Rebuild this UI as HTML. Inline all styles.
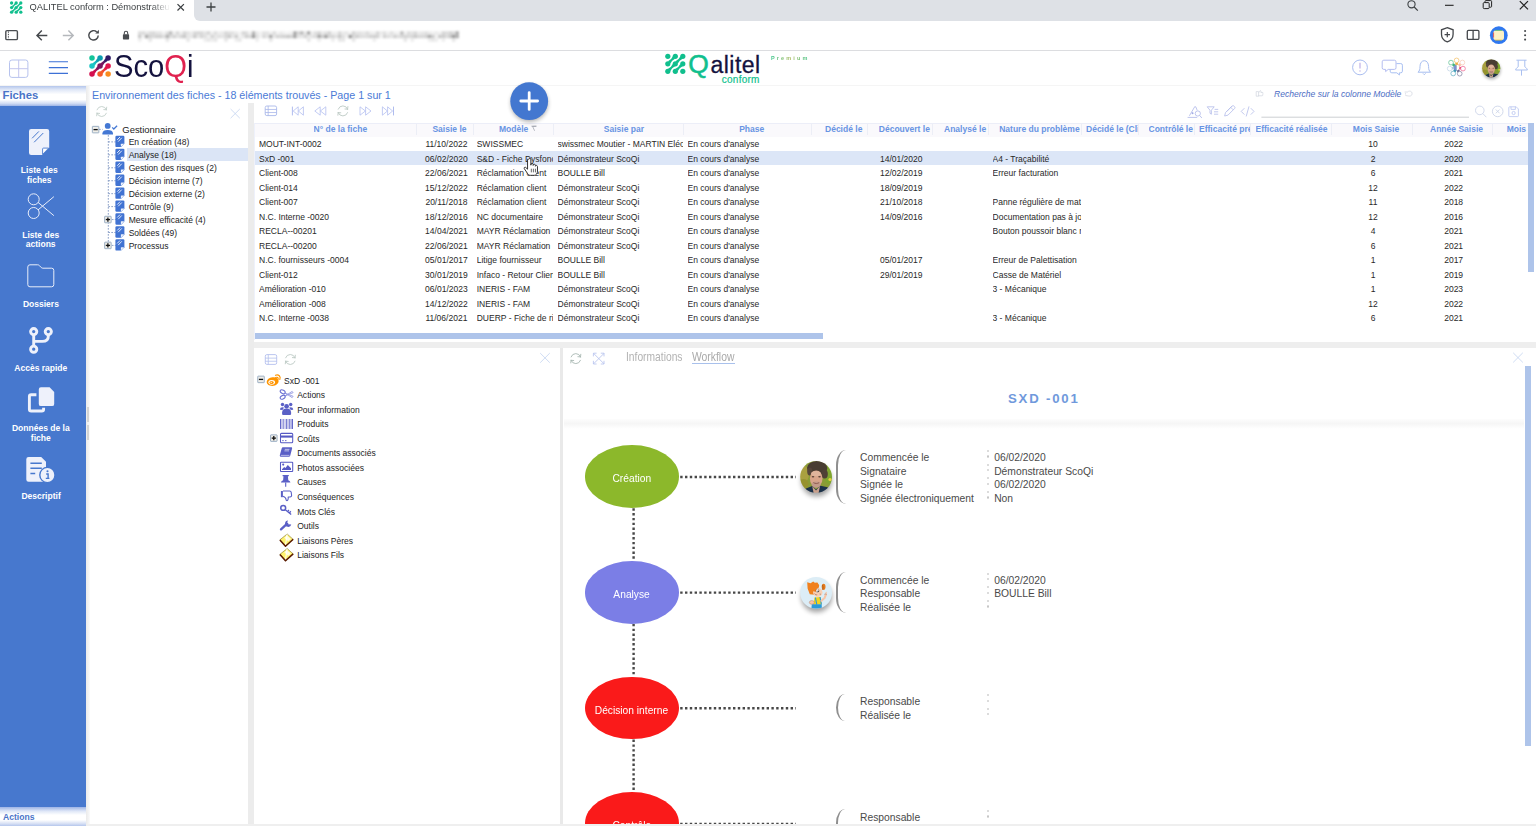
<!DOCTYPE html>
<html lang="fr"><head><meta charset="utf-8"><title>QALITEL conform : Démonstrateur</title>
<style>
*{box-sizing:border-box;margin:0;padding:0}
html,body{width:1536px;height:826px;overflow:hidden;background:#fff}
body{position:relative;font-family:"Liberation Sans",sans-serif;font-size:8.53px;color:#1f1f1f;line-height:1}
.a{position:absolute}
.t{position:absolute;white-space:nowrap;line-height:12px;height:12px}
svg{position:absolute;overflow:visible}
#tabstrip{left:0;top:0;width:1536px;height:21px;background:#dee1e6}
#tab{left:0;top:0;width:193.500px;height:21px;background:#fff}
#tabcurve{left:193.500px;top:15px;width:6px;height:6px;background:#fff}
#tabcurve2{left:193.500px;top:9px;width:12px;height:12px;background:#dee1e6;border-radius:0 0 0 6px}
#toolbar{left:0;top:21px;width:1536px;height:30px;background:#fff;border-bottom:1px solid #dcdde0}
#apphead{left:0;top:51px;width:1536px;height:34.500px;background:#fff;border-bottom:1px solid #f5f5f5}
#side{left:0;top:86px;width:86px;height:740px;background:#4778ce}
.shead{position:absolute;left:0;width:86px;color:#4a72c6;font-weight:bold}
.sl{position:absolute;left:0;width:80px;text-align:center;color:#fff;font-weight:bold;font-size:8.53px;line-height:9.6px}
.hd{position:absolute;top:123px;height:13px;line-height:13px;color:#6894e3;font-weight:bold;white-space:nowrap;overflow:hidden;font-size:8.53px}
.sep{position:absolute;top:124px;width:1px;height:11px;background:#eceef6}
.c{position:absolute;white-space:nowrap;overflow:hidden;height:14px;line-height:14px;font-size:8.53px;color:#282828}
.tr{position:absolute;white-space:nowrap;font-size:8.53px;line-height:13px;height:13px;color:#1c1c1c}
.wl{position:absolute;white-space:nowrap;font-size:10.3px;line-height:13.7px;color:#4a4a4a}
.el{position:absolute;border-radius:50%;color:#fff;text-align:center;font-size:11px}
.hdot{position:absolute;height:0;border-top:2px dotted #4a4a4a}
.vdot{position:absolute;width:0;border-left:2px dotted #4a4a4a}
.br{position:absolute;width:12px;border-left:2.700px solid #8f8f8f;border-radius:10px 0 0 10px / 15px 0 0 15px}
.dt{position:absolute;left:986.500px;width:2.300px;height:2.300px;border-radius:50%;border:.6px solid #c6c6c6}
</style></head><body>
<div class="a" id="tabstrip"></div><div class="a" id="tab"></div><div class="a" id="tabcurve"></div><div class="a" id="tabcurve2"></div><div class="a" id="toolbar"></div>
<svg class="a" style="left:0;top:0" width="1536" height="51"><defs><linearGradient id="g11_0" gradientUnits="userSpaceOnUse" x1="16.20" y1="3.00" x2="11.60" y2="7.60"><stop offset="0.3" stop-color="#10bf8d"/><stop offset="0.7" stop-color="#10bf8d"/></linearGradient></defs><path d="M14.60 3.15Q13.65 5.05 11.75 6.00L13.20 7.45Q14.15 5.55 16.05 4.60Z" fill="url(#g11_0)"/><defs><linearGradient id="g11_1" gradientUnits="userSpaceOnUse" x1="20.80" y1="3.00" x2="16.20" y2="7.60"><stop offset="0.3" stop-color="#10bf8d"/><stop offset="0.7" stop-color="#10bf8d"/></linearGradient></defs><path d="M19.20 3.15Q18.25 5.05 16.35 6.00L17.80 7.45Q18.75 5.55 20.65 4.60Z" fill="url(#g11_1)"/><defs><linearGradient id="g11_2" gradientUnits="userSpaceOnUse" x1="16.20" y1="7.60" x2="11.60" y2="12.20"><stop offset="0.3" stop-color="#10bf8d"/><stop offset="0.7" stop-color="#10bf8d"/></linearGradient></defs><path d="M14.60 7.75Q13.65 9.65 11.75 10.60L13.20 12.05Q14.15 10.15 16.05 9.20Z" fill="url(#g11_2)"/><defs><linearGradient id="g11_3" gradientUnits="userSpaceOnUse" x1="20.80" y1="7.60" x2="16.20" y2="12.20"><stop offset="0.3" stop-color="#10bf8d"/><stop offset="0.7" stop-color="#10bf8d"/></linearGradient></defs><path d="M19.20 7.75Q18.25 9.65 16.35 10.60L17.80 12.05Q18.75 10.15 20.65 9.20Z" fill="url(#g11_3)"/><circle cx="11.60" cy="3.00" r="1.65" fill="#10bf8d"/><circle cx="16.20" cy="3.00" r="1.65" fill="#10bf8d"/><circle cx="20.80" cy="3.00" r="1.65" fill="#10bf8d"/><circle cx="11.60" cy="7.60" r="1.65" fill="#10bf8d"/><circle cx="16.20" cy="7.60" r="1.65" fill="#10bf8d"/><circle cx="20.80" cy="7.60" r="1.65" fill="#10bf8d"/><circle cx="11.60" cy="12.20" r="1.65" fill="#10bf8d"/><circle cx="16.20" cy="12.20" r="1.65" fill="#10bf8d"/><circle cx="20.80" cy="12.20" r="1.65" fill="#10bf8d"/><path d="M177.5 4.1l6.4 6.4M183.9 4.1l-6.4 6.4" stroke="#3c4043" stroke-width="1.25" fill="none"/><path d="M206.5 7h9M211 2.5v9" stroke="#3c4043" stroke-width="1.3" fill="none"/><circle cx="1411.5" cy="4.3" r="3.6" fill="none" stroke="#3c4043" stroke-width="1.1"/><path d="M1414.2 7l3.6 3.6" stroke="#3c4043" stroke-width="1.2"/><path d="M1445 5.3h8.6" stroke="#222" stroke-width="1.1"/><rect x="1483.2" y="2.6" width="6" height="6" rx="1" fill="none" stroke="#222" stroke-width="1"/><path d="M1485 2.6v-1.2a.8.8 0 0 1 .8-.8h5a.8.8 0 0 1 .8.8v5a.8.8 0 0 1-.8.8h-1.3" fill="none" stroke="#222" stroke-width="1"/><path d="M1519.8 1.2l8.2 8.2M1528 1.2l-8.2 8.2" stroke="#222" stroke-width="1.2"/><g transform="translate(0 .4)"><rect x="5.8" y="30.2" width="11.6" height="9" rx="1.2" fill="none" stroke="#4a4d51" stroke-width="1.4"/><path d="M8.400 31v7.400" stroke="#4a4d51" stroke-width="1" stroke-dasharray="1.400 1"/><path d="M47.3 35H37.2M41.8 30.2l-4.8 4.8 4.8 4.8" fill="none" stroke="#45484c" stroke-width="1.450"/><path d="M62.8 35h10.1M68.4 30.2l4.8 4.8-4.8 4.8" fill="none" stroke="#b5b8bc" stroke-width="1.450"/><path d="M98.2 35a4.7 4.7 0 1 1-1.5-3.5" fill="none" stroke="#45484c" stroke-width="1.450"/><path d="M98.9 29.4v3.6h-3.6z" fill="#45484c"/><rect x="122.9" y="33.8" width="6.2" height="5.2" rx=".7" fill="#4a4d51"/><path d="M124.3 34v-1.5a1.7 1.7 0 0 1 3.4 0V34" fill="none" stroke="#4a4d51" stroke-width="1.1"/></g><defs><filter id="bl" x="-5%" y="-50%" width="110%" height="200%"><feGaussianBlur stdDeviation=".85"/></filter></defs><g filter="url(#bl)"><rect x="138.00" y="31.30" width="3.50" height="3.500" fill="rgb(220,220,220)"/><rect x="138.00" y="34.75" width="3.50" height="3.500" fill="rgb(198,198,198)"/><rect x="138.00" y="38.20" width="3.50" height="3.500" fill="rgb(237,237,237)"/><rect x="141.45" y="31.30" width="3.50" height="3.500" fill="rgb(216,216,216)"/><rect x="141.45" y="34.75" width="3.50" height="3.500" fill="rgb(242,242,242)"/><rect x="144.90" y="31.30" width="3.50" height="3.500" fill="rgb(231,231,231)"/><rect x="144.90" y="34.75" width="3.50" height="3.500" fill="rgb(166,166,166)"/><rect x="148.35" y="31.30" width="3.50" height="3.500" fill="rgb(219,219,219)"/><rect x="148.35" y="34.75" width="3.50" height="3.500" fill="rgb(207,207,207)"/><rect x="148.35" y="38.20" width="3.50" height="3.500" fill="rgb(229,229,229)"/><rect x="151.80" y="31.30" width="3.50" height="3.500" fill="rgb(215,215,215)"/><rect x="151.80" y="34.75" width="3.50" height="3.500" fill="rgb(216,216,216)"/><rect x="155.25" y="31.30" width="3.50" height="3.500" fill="rgb(225,225,225)"/><rect x="155.25" y="34.75" width="3.50" height="3.500" fill="rgb(205,205,205)"/><rect x="158.70" y="31.30" width="3.50" height="3.500" fill="rgb(227,227,227)"/><rect x="158.70" y="34.75" width="3.50" height="3.500" fill="rgb(206,206,206)"/><rect x="162.15" y="31.30" width="3.50" height="3.500" fill="rgb(242,242,242)"/><rect x="162.15" y="34.75" width="3.50" height="3.500" fill="rgb(220,220,220)"/><rect x="165.60" y="31.30" width="3.50" height="3.500" fill="rgb(221,221,221)"/><rect x="165.60" y="34.75" width="3.50" height="3.500" fill="rgb(173,173,173)"/><rect x="165.60" y="38.20" width="3.50" height="3.500" fill="rgb(229,229,229)"/><rect x="169.05" y="31.30" width="3.50" height="3.500" fill="rgb(181,181,181)"/><rect x="169.05" y="34.75" width="3.50" height="3.500" fill="rgb(219,219,219)"/><rect x="172.50" y="31.30" width="3.50" height="3.500" fill="rgb(240,240,240)"/><rect x="172.50" y="34.75" width="3.50" height="3.500" fill="rgb(209,209,209)"/><rect x="175.95" y="31.30" width="3.50" height="3.500" fill="rgb(213,213,213)"/><rect x="175.95" y="34.75" width="3.50" height="3.500" fill="rgb(227,227,227)"/><rect x="179.40" y="31.30" width="3.50" height="3.500" fill="rgb(238,238,238)"/><rect x="179.40" y="34.75" width="3.50" height="3.500" fill="rgb(211,211,211)"/><rect x="182.85" y="31.30" width="3.50" height="3.500" fill="rgb(212,212,212)"/><rect x="182.85" y="34.75" width="3.50" height="3.500" fill="rgb(196,196,196)"/><rect x="186.30" y="31.30" width="3.50" height="3.500" fill="rgb(224,224,224)"/><rect x="186.30" y="34.75" width="3.50" height="3.500" fill="rgb(230,230,230)"/><rect x="186.30" y="38.20" width="3.50" height="3.500" fill="rgb(229,229,229)"/><rect x="189.75" y="31.30" width="3.50" height="3.500" fill="rgb(235,235,235)"/><rect x="189.75" y="34.75" width="3.50" height="3.500" fill="rgb(230,230,230)"/><rect x="193.20" y="31.30" width="3.50" height="3.500" fill="rgb(212,212,212)"/><rect x="193.20" y="34.75" width="3.50" height="3.500" fill="rgb(198,198,198)"/><rect x="196.65" y="31.30" width="3.50" height="3.500" fill="rgb(212,212,212)"/><rect x="196.65" y="34.75" width="3.50" height="3.500" fill="rgb(230,230,230)"/><rect x="200.10" y="31.30" width="3.50" height="3.500" fill="rgb(214,214,214)"/><rect x="200.10" y="34.75" width="3.50" height="3.500" fill="rgb(209,209,209)"/><rect x="203.55" y="31.30" width="3.50" height="3.500" fill="rgb(226,226,226)"/><rect x="203.55" y="34.75" width="3.50" height="3.500" fill="rgb(223,223,223)"/><rect x="203.55" y="38.20" width="3.50" height="3.500" fill="rgb(237,237,237)"/><rect x="207.00" y="31.30" width="3.50" height="3.500" fill="rgb(209,209,209)"/><rect x="207.00" y="34.75" width="3.50" height="3.500" fill="rgb(242,242,242)"/><rect x="207.00" y="38.20" width="3.50" height="3.500" fill="rgb(229,229,229)"/><rect x="210.45" y="31.30" width="3.50" height="3.500" fill="rgb(239,239,239)"/><rect x="210.45" y="34.75" width="3.50" height="3.500" fill="rgb(209,209,209)"/><rect x="210.45" y="38.20" width="3.50" height="3.500" fill="rgb(237,237,237)"/><rect x="213.90" y="31.30" width="3.50" height="3.500" fill="rgb(220,220,220)"/><rect x="213.90" y="34.75" width="3.50" height="3.500" fill="rgb(231,231,231)"/><rect x="213.90" y="38.20" width="3.50" height="3.500" fill="rgb(229,229,229)"/><rect x="217.35" y="31.30" width="3.50" height="3.500" fill="rgb(237,237,237)"/><rect x="217.35" y="34.75" width="3.50" height="3.500" fill="rgb(222,222,222)"/><rect x="220.80" y="31.30" width="3.50" height="3.500" fill="rgb(233,233,233)"/><rect x="220.80" y="34.75" width="3.50" height="3.500" fill="rgb(229,229,229)"/><rect x="224.25" y="31.30" width="3.50" height="3.500" fill="rgb(212,212,212)"/><rect x="224.25" y="34.75" width="3.50" height="3.500" fill="rgb(213,213,213)"/><rect x="224.25" y="38.20" width="3.50" height="3.500" fill="rgb(229,229,229)"/><rect x="227.70" y="31.30" width="3.50" height="3.500" fill="rgb(221,221,221)"/><rect x="227.70" y="34.75" width="3.50" height="3.500" fill="rgb(200,200,200)"/><rect x="231.15" y="31.30" width="3.50" height="3.500" fill="rgb(224,224,224)"/><rect x="231.15" y="34.75" width="3.50" height="3.500" fill="rgb(230,230,230)"/><rect x="234.60" y="31.30" width="3.50" height="3.500" fill="rgb(234,234,234)"/><rect x="234.60" y="34.75" width="3.50" height="3.500" fill="rgb(201,201,201)"/><rect x="234.60" y="38.20" width="3.50" height="3.500" fill="rgb(237,237,237)"/><rect x="238.05" y="31.30" width="3.50" height="3.500" fill="rgb(244,244,244)"/><rect x="238.05" y="34.75" width="3.50" height="3.500" fill="rgb(242,242,242)"/><rect x="238.05" y="38.20" width="3.50" height="3.500" fill="rgb(229,229,229)"/><rect x="241.50" y="31.30" width="3.50" height="3.500" fill="rgb(212,212,212)"/><rect x="241.50" y="34.75" width="3.50" height="3.500" fill="rgb(231,231,231)"/><rect x="244.95" y="31.30" width="3.50" height="3.500" fill="rgb(219,219,219)"/><rect x="244.95" y="34.75" width="3.50" height="3.500" fill="rgb(205,205,205)"/><rect x="248.40" y="31.30" width="3.50" height="3.500" fill="rgb(241,241,241)"/><rect x="248.40" y="34.75" width="3.50" height="3.500" fill="rgb(214,214,214)"/><rect x="251.85" y="31.30" width="3.50" height="3.500" fill="rgb(176,176,176)"/><rect x="251.85" y="34.75" width="3.50" height="3.500" fill="rgb(151,151,151)"/><rect x="255.30" y="31.30" width="3.50" height="3.500" fill="rgb(231,231,231)"/><rect x="255.30" y="34.75" width="3.50" height="3.500" fill="rgb(220,220,220)"/><rect x="255.30" y="38.20" width="3.50" height="3.500" fill="rgb(237,237,237)"/><rect x="258.75" y="31.30" width="3.50" height="3.500" fill="rgb(242,242,242)"/><rect x="258.75" y="34.75" width="3.50" height="3.500" fill="rgb(242,242,242)"/><rect x="262.20" y="31.30" width="3.50" height="3.500" fill="rgb(224,224,224)"/><rect x="262.20" y="34.75" width="3.50" height="3.500" fill="rgb(214,214,214)"/><rect x="265.65" y="31.30" width="3.50" height="3.500" fill="rgb(227,227,227)"/><rect x="265.65" y="34.75" width="3.50" height="3.500" fill="rgb(227,227,227)"/><rect x="269.10" y="31.30" width="3.50" height="3.500" fill="rgb(239,239,239)"/><rect x="269.10" y="34.75" width="3.50" height="3.500" fill="rgb(161,161,161)"/><rect x="269.10" y="38.20" width="3.50" height="3.500" fill="rgb(229,229,229)"/><rect x="272.55" y="31.30" width="3.50" height="3.500" fill="rgb(219,219,219)"/><rect x="272.55" y="34.75" width="3.50" height="3.500" fill="rgb(229,229,229)"/><rect x="276.00" y="31.30" width="3.50" height="3.500" fill="rgb(243,243,243)"/><rect x="276.00" y="34.75" width="3.50" height="3.500" fill="rgb(210,210,210)"/><rect x="279.45" y="31.30" width="3.50" height="3.500" fill="rgb(234,234,234)"/><rect x="279.45" y="34.75" width="3.50" height="3.500" fill="rgb(211,211,211)"/><rect x="282.90" y="31.30" width="3.50" height="3.500" fill="rgb(242,242,242)"/><rect x="282.90" y="34.75" width="3.50" height="3.500" fill="rgb(208,208,208)"/><rect x="286.35" y="31.30" width="3.50" height="3.500" fill="rgb(243,243,243)"/><rect x="286.35" y="34.75" width="3.50" height="3.500" fill="rgb(197,197,197)"/><rect x="289.80" y="31.30" width="3.50" height="3.500" fill="rgb(239,239,239)"/><rect x="289.80" y="34.75" width="3.50" height="3.500" fill="rgb(210,210,210)"/><rect x="293.25" y="31.30" width="3.50" height="3.500" fill="rgb(161,161,161)"/><rect x="293.25" y="34.75" width="3.50" height="3.500" fill="rgb(160,160,160)"/><rect x="296.70" y="31.30" width="3.50" height="3.500" fill="rgb(212,212,212)"/><rect x="296.70" y="34.75" width="3.50" height="3.500" fill="rgb(227,227,227)"/><rect x="300.15" y="31.30" width="3.50" height="3.500" fill="rgb(180,180,180)"/><rect x="300.15" y="34.75" width="3.50" height="3.500" fill="rgb(229,229,229)"/><rect x="303.60" y="31.30" width="3.50" height="3.500" fill="rgb(231,231,231)"/><rect x="303.60" y="34.75" width="3.50" height="3.500" fill="rgb(212,212,212)"/><rect x="307.05" y="31.30" width="3.50" height="3.500" fill="rgb(159,159,159)"/><rect x="307.05" y="34.75" width="3.50" height="3.500" fill="rgb(231,231,231)"/><rect x="307.05" y="38.20" width="3.50" height="3.500" fill="rgb(229,229,229)"/><rect x="310.50" y="31.30" width="3.50" height="3.500" fill="rgb(238,238,238)"/><rect x="310.50" y="34.75" width="3.50" height="3.500" fill="rgb(226,226,226)"/><rect x="313.95" y="31.30" width="3.50" height="3.500" fill="rgb(221,221,221)"/><rect x="313.95" y="34.75" width="3.50" height="3.500" fill="rgb(219,219,219)"/><rect x="317.40" y="31.30" width="3.50" height="3.500" fill="rgb(209,209,209)"/><rect x="317.40" y="34.75" width="3.50" height="3.500" fill="rgb(160,160,160)"/><rect x="317.40" y="38.20" width="3.50" height="3.500" fill="rgb(237,237,237)"/><rect x="320.85" y="31.30" width="3.50" height="3.500" fill="rgb(233,233,233)"/><rect x="320.85" y="34.75" width="3.50" height="3.500" fill="rgb(206,206,206)"/><rect x="324.30" y="31.30" width="3.50" height="3.500" fill="rgb(222,222,222)"/><rect x="324.30" y="34.75" width="3.50" height="3.500" fill="rgb(156,156,156)"/><rect x="327.75" y="31.30" width="3.50" height="3.500" fill="rgb(209,209,209)"/><rect x="327.75" y="34.75" width="3.50" height="3.500" fill="rgb(214,214,214)"/><rect x="331.20" y="31.30" width="3.50" height="3.500" fill="rgb(238,238,238)"/><rect x="331.20" y="34.75" width="3.50" height="3.500" fill="rgb(210,210,210)"/><rect x="331.20" y="38.20" width="3.50" height="3.500" fill="rgb(237,237,237)"/><rect x="334.65" y="31.30" width="3.50" height="3.500" fill="rgb(239,239,239)"/><rect x="334.65" y="34.75" width="3.50" height="3.500" fill="rgb(224,224,224)"/><rect x="338.10" y="31.30" width="3.50" height="3.500" fill="rgb(214,214,214)"/><rect x="338.10" y="34.75" width="3.50" height="3.500" fill="rgb(197,197,197)"/><rect x="338.10" y="38.20" width="3.50" height="3.500" fill="rgb(229,229,229)"/><rect x="341.55" y="31.30" width="3.50" height="3.500" fill="rgb(234,234,234)"/><rect x="341.55" y="34.75" width="3.50" height="3.500" fill="rgb(223,223,223)"/><rect x="341.55" y="38.20" width="3.50" height="3.500" fill="rgb(229,229,229)"/><rect x="345.00" y="31.30" width="3.50" height="3.500" fill="rgb(229,229,229)"/><rect x="345.00" y="34.75" width="3.50" height="3.500" fill="rgb(242,242,242)"/><rect x="348.45" y="31.30" width="3.50" height="3.500" fill="rgb(243,243,243)"/><rect x="348.45" y="34.75" width="3.50" height="3.500" fill="rgb(147,147,147)"/><rect x="351.90" y="31.30" width="3.50" height="3.500" fill="rgb(209,209,209)"/><rect x="351.90" y="34.75" width="3.50" height="3.500" fill="rgb(214,214,214)"/><rect x="351.90" y="38.20" width="3.50" height="3.500" fill="rgb(229,229,229)"/><rect x="355.35" y="31.30" width="3.50" height="3.500" fill="rgb(226,226,226)"/><rect x="355.35" y="34.75" width="3.50" height="3.500" fill="rgb(204,204,204)"/><rect x="358.80" y="31.30" width="3.50" height="3.500" fill="rgb(226,226,226)"/><rect x="358.80" y="34.75" width="3.50" height="3.500" fill="rgb(220,220,220)"/><rect x="362.25" y="31.30" width="3.50" height="3.500" fill="rgb(230,230,230)"/><rect x="362.25" y="34.75" width="3.50" height="3.500" fill="rgb(221,221,221)"/><rect x="365.70" y="31.30" width="3.50" height="3.500" fill="rgb(218,218,218)"/><rect x="365.70" y="34.75" width="3.50" height="3.500" fill="rgb(220,220,220)"/><rect x="369.15" y="31.30" width="3.50" height="3.500" fill="rgb(236,236,236)"/><rect x="369.15" y="34.75" width="3.50" height="3.500" fill="rgb(207,207,207)"/><rect x="372.60" y="31.30" width="3.50" height="3.500" fill="rgb(238,238,238)"/><rect x="372.60" y="34.75" width="3.50" height="3.500" fill="rgb(205,205,205)"/><rect x="372.60" y="38.20" width="3.50" height="3.500" fill="rgb(237,237,237)"/><rect x="376.05" y="31.30" width="3.50" height="3.500" fill="rgb(212,212,212)"/><rect x="376.05" y="34.75" width="3.50" height="3.500" fill="rgb(209,209,209)"/><rect x="379.50" y="31.30" width="3.50" height="3.500" fill="rgb(234,234,234)"/><rect x="379.50" y="34.75" width="3.50" height="3.500" fill="rgb(242,242,242)"/><rect x="382.95" y="31.30" width="3.50" height="3.500" fill="rgb(223,223,223)"/><rect x="382.95" y="34.75" width="3.50" height="3.500" fill="rgb(209,209,209)"/><rect x="386.40" y="31.30" width="3.50" height="3.500" fill="rgb(239,239,239)"/><rect x="386.40" y="34.75" width="3.50" height="3.500" fill="rgb(221,221,221)"/><rect x="389.85" y="31.30" width="3.50" height="3.500" fill="rgb(223,223,223)"/><rect x="389.85" y="34.75" width="3.50" height="3.500" fill="rgb(229,229,229)"/><rect x="393.30" y="31.30" width="3.50" height="3.500" fill="rgb(238,238,238)"/><rect x="393.30" y="34.75" width="3.50" height="3.500" fill="rgb(205,205,205)"/><rect x="396.75" y="31.30" width="3.50" height="3.500" fill="rgb(242,242,242)"/><rect x="396.75" y="34.75" width="3.50" height="3.500" fill="rgb(223,223,223)"/><rect x="400.20" y="31.30" width="3.50" height="3.500" fill="rgb(183,183,183)"/><rect x="400.20" y="34.75" width="3.50" height="3.500" fill="rgb(212,212,212)"/><rect x="403.65" y="31.30" width="3.50" height="3.500" fill="rgb(241,241,241)"/><rect x="403.65" y="34.75" width="3.50" height="3.500" fill="rgb(211,211,211)"/><rect x="403.65" y="38.20" width="3.50" height="3.500" fill="rgb(229,229,229)"/><rect x="407.10" y="31.30" width="3.50" height="3.500" fill="rgb(218,218,218)"/><rect x="407.10" y="34.75" width="3.50" height="3.500" fill="rgb(216,216,216)"/><rect x="410.55" y="31.30" width="3.50" height="3.500" fill="rgb(226,226,226)"/><rect x="410.55" y="34.75" width="3.50" height="3.500" fill="rgb(212,212,212)"/><rect x="410.55" y="38.20" width="3.50" height="3.500" fill="rgb(237,237,237)"/><rect x="414.00" y="31.30" width="3.50" height="3.500" fill="rgb(215,215,215)"/><rect x="414.00" y="34.75" width="3.50" height="3.500" fill="rgb(199,199,199)"/><rect x="417.45" y="31.30" width="3.50" height="3.500" fill="rgb(235,235,235)"/><rect x="417.45" y="34.75" width="3.50" height="3.500" fill="rgb(215,215,215)"/><rect x="420.90" y="31.30" width="3.50" height="3.500" fill="rgb(229,229,229)"/><rect x="420.90" y="34.75" width="3.50" height="3.500" fill="rgb(215,215,215)"/><rect x="424.35" y="31.30" width="3.50" height="3.500" fill="rgb(222,222,222)"/><rect x="424.35" y="34.75" width="3.50" height="3.500" fill="rgb(207,207,207)"/><rect x="427.80" y="31.30" width="3.50" height="3.500" fill="rgb(234,234,234)"/><rect x="427.80" y="34.75" width="3.50" height="3.500" fill="rgb(166,166,166)"/><rect x="427.80" y="38.20" width="3.50" height="3.500" fill="rgb(237,237,237)"/><rect x="431.25" y="31.30" width="3.50" height="3.500" fill="rgb(239,239,239)"/><rect x="431.25" y="34.75" width="3.50" height="3.500" fill="rgb(200,200,200)"/><rect x="431.25" y="38.20" width="3.50" height="3.500" fill="rgb(229,229,229)"/><rect x="434.70" y="31.30" width="3.50" height="3.500" fill="rgb(234,234,234)"/><rect x="434.70" y="34.75" width="3.50" height="3.500" fill="rgb(242,242,242)"/><rect x="434.70" y="38.20" width="3.50" height="3.500" fill="rgb(237,237,237)"/><rect x="438.15" y="31.30" width="3.50" height="3.500" fill="rgb(241,241,241)"/><rect x="438.15" y="34.75" width="3.50" height="3.500" fill="rgb(200,200,200)"/><rect x="441.60" y="31.30" width="3.50" height="3.500" fill="rgb(212,212,212)"/><rect x="441.60" y="34.75" width="3.50" height="3.500" fill="rgb(203,203,203)"/><rect x="441.60" y="38.20" width="3.50" height="3.500" fill="rgb(237,237,237)"/><rect x="445.05" y="31.30" width="3.50" height="3.500" fill="rgb(219,219,219)"/><rect x="445.05" y="34.75" width="3.50" height="3.500" fill="rgb(219,219,219)"/><rect x="448.50" y="31.30" width="3.50" height="3.500" fill="rgb(210,210,210)"/><rect x="448.50" y="34.75" width="3.50" height="3.500" fill="rgb(198,198,198)"/><rect x="451.95" y="31.30" width="3.50" height="3.500" fill="rgb(218,218,218)"/><rect x="451.95" y="34.75" width="3.50" height="3.500" fill="rgb(153,153,153)"/><rect x="451.95" y="38.20" width="3.50" height="3.500" fill="rgb(229,229,229)"/><rect x="455.40" y="31.30" width="3.50" height="3.500" fill="rgb(172,172,172)"/><rect x="455.40" y="34.75" width="3.50" height="3.500" fill="rgb(175,175,175)"/></g><path d="M1447.3 27.6l5.8 2.2v4.4c0 3.6-2.4 6.4-5.8 7.7-3.4-1.3-5.8-4.1-5.8-7.7v-4.4z" fill="none" stroke="#45484c" stroke-width="1.3"/><path d="M1444.6 34.6h5.4M1447.3 31.9v5.4" stroke="#45484c" stroke-width="1.2"/><rect x="1467.3" y="30.4" width="11.6" height="9" rx="1.2" fill="none" stroke="#45484c" stroke-width="1.3"/><path d="M1473.1 30.4v9" stroke="#45484c" stroke-width="1.3"/><circle cx="1498.8" cy="35.2" r="8.9" fill="#2f78f0"/><rect x="1493.4" y="30.4" width="10.6" height="9.6" rx="2" fill="#fbf1c4"/><rect x="1492.9" y="32.5" width="1.2" height="5" fill="#e8453c" opacity=".7"/><rect x="1495" y="29.9" width="7" height="1" fill="#5cc25a" opacity=".7"/><rect x="1495" y="39.6" width="7" height="1" fill="#e8c33c" opacity=".8"/><circle cx="1525.1" cy="31" r="1.05" fill="#45484c"/><circle cx="1525.1" cy="35.3" r="1.05" fill="#45484c"/><circle cx="1525.1" cy="39.6" r="1.05" fill="#45484c"/></svg>
<div class="t" style="left:29.6px;top:1px;font-size:9.300px;color:#3c4043;width:140.500px;overflow:hidden;-webkit-mask-image:linear-gradient(90deg,#000 86%,transparent 100%);mask-image:linear-gradient(90deg,#000 86%,transparent 100%)">QALITEL conform : Démonstrateur ScoQi</div>
<div class="a" id="apphead"></div>
<svg class="a" style="left:0;top:0" width="1536" height="90"><rect x="9.5" y="60" width="18.4" height="17.4" rx="2.4" fill="none" stroke="#b7c3ee" stroke-width="1"/><path d="M18.7 60v17.4M9.5 68.7h18.4" stroke="#c3c6ee" stroke-width="1"/><path d="M48.8 61.8h19.2M48.8 67.6h19.2M48.8 73.4h19.2" stroke="#3d71d6" stroke-width="1.1"/><defs><linearGradient id="g92_0" gradientUnits="userSpaceOnUse" x1="100.05" y1="58.00" x2="92.00" y2="66.05"><stop offset="0.3" stop-color="#0d9db0"/><stop offset="0.7" stop-color="#1cc4c4"/></linearGradient></defs><path d="M97.39 58.25Q95.78 61.78 92.25 63.39L94.66 65.80Q96.27 62.27 99.80 60.66Z" fill="url(#g92_0)"/><defs><linearGradient id="g92_1" gradientUnits="userSpaceOnUse" x1="108.10" y1="58.00" x2="100.05" y2="66.05"><stop offset="0.3" stop-color="#2d1a66"/><stop offset="0.7" stop-color="#7a1560"/></linearGradient></defs><path d="M105.44 58.25Q103.83 61.78 100.30 63.39L102.71 65.80Q104.32 62.27 107.85 60.66Z" fill="url(#g92_1)"/><defs><linearGradient id="g92_2" gradientUnits="userSpaceOnUse" x1="100.05" y1="66.05" x2="92.00" y2="74.10"><stop offset="0.3" stop-color="#7a1560"/><stop offset="0.7" stop-color="#d40f4f"/></linearGradient></defs><path d="M97.39 66.30Q95.78 69.83 92.25 71.44L94.66 73.85Q96.27 70.32 99.80 68.71Z" fill="url(#g92_2)"/><defs><linearGradient id="g92_3" gradientUnits="userSpaceOnUse" x1="108.10" y1="66.05" x2="100.05" y2="74.10"><stop offset="0.3" stop-color="#e0144c"/><stop offset="0.7" stop-color="#f55a2a"/></linearGradient></defs><path d="M105.44 66.30Q103.83 69.83 100.30 71.44L102.71 73.85Q104.32 70.32 107.85 68.71Z" fill="url(#g92_3)"/><circle cx="92.00" cy="58.00" r="2.75" fill="#14c49a"/><circle cx="100.05" cy="58.00" r="2.75" fill="#0d9db0"/><circle cx="108.10" cy="58.00" r="2.75" fill="#2d1a66"/><circle cx="92.00" cy="66.05" r="2.75" fill="#1cc4c4"/><circle cx="100.05" cy="66.05" r="2.75" fill="#7a1560"/><circle cx="108.10" cy="66.05" r="2.75" fill="#e0144c"/><circle cx="92.00" cy="74.10" r="2.75" fill="#d40f4f"/><circle cx="100.05" cy="74.10" r="2.75" fill="#f55a2a"/><circle cx="108.10" cy="74.10" r="2.75" fill="#fa8c1e"/><defs><linearGradient id="g667_0" gradientUnits="userSpaceOnUse" x1="675.30" y1="56.30" x2="667.80" y2="63.80"><stop offset="0.3" stop-color="#10bf8d"/><stop offset="0.7" stop-color="#10bf8d"/></linearGradient></defs><path d="M672.78 56.54Q671.30 59.80 668.04 61.28L670.32 63.56Q671.80 60.30 675.06 58.82Z" fill="url(#g667_0)"/><defs><linearGradient id="g667_1" gradientUnits="userSpaceOnUse" x1="682.80" y1="56.30" x2="675.30" y2="63.80"><stop offset="0.3" stop-color="#10bf8d"/><stop offset="0.7" stop-color="#10bf8d"/></linearGradient></defs><path d="M680.28 56.54Q678.80 59.80 675.54 61.28L677.82 63.56Q679.30 60.30 682.56 58.82Z" fill="url(#g667_1)"/><defs><linearGradient id="g667_2" gradientUnits="userSpaceOnUse" x1="675.30" y1="63.80" x2="667.80" y2="71.30"><stop offset="0.3" stop-color="#10bf8d"/><stop offset="0.7" stop-color="#10bf8d"/></linearGradient></defs><path d="M672.78 64.04Q671.30 67.30 668.04 68.78L670.32 71.06Q671.80 67.80 675.06 66.32Z" fill="url(#g667_2)"/><defs><linearGradient id="g667_3" gradientUnits="userSpaceOnUse" x1="682.80" y1="63.80" x2="675.30" y2="71.30"><stop offset="0.3" stop-color="#10bf8d"/><stop offset="0.7" stop-color="#10bf8d"/></linearGradient></defs><path d="M680.28 64.04Q678.80 67.30 675.54 68.78L677.82 71.06Q679.30 67.80 682.56 66.32Z" fill="url(#g667_3)"/><circle cx="667.80" cy="56.30" r="2.60" fill="#10bf8d"/><circle cx="675.30" cy="56.30" r="2.60" fill="#10bf8d"/><circle cx="682.80" cy="56.30" r="2.60" fill="#10bf8d"/><circle cx="667.80" cy="63.80" r="2.60" fill="#10bf8d"/><circle cx="675.30" cy="63.80" r="2.60" fill="#10bf8d"/><circle cx="682.80" cy="63.80" r="2.60" fill="#10bf8d"/><circle cx="667.80" cy="71.30" r="2.60" fill="#10bf8d"/><circle cx="675.30" cy="71.30" r="2.60" fill="#10bf8d"/><circle cx="682.80" cy="71.30" r="2.60" fill="#10bf8d"/><circle cx="1360" cy="67.4" r="7.4" fill="none" stroke="#a9bdf0" stroke-width="1"/><path d="M1360 62.8v5.6" stroke="#b9a9e6" stroke-width="1.1"/><circle cx="1360" cy="71" r=".7" fill="#b9a9e6"/><path d="M1383.8 60.2h10.6a1.6 1.6 0 0 1 1.6 1.6v6a1.6 1.6 0 0 1-1.6 1.6h-6.2l-2.6 2.2v-2.2h-1.8a1.6 1.6 0 0 1-1.6-1.6v-6a1.6 1.6 0 0 1 1.6-1.6z" fill="none" stroke="#b4bdf0" stroke-width="1"/><path d="M1396.4 63.6h4.4a1.6 1.6 0 0 1 1.6 1.6v6a1.6 1.6 0 0 1-1.6 1.6h-1.4v2.2l-2.6-2.2h-5a1.6 1.6 0 0 1-1.6-1.6v-1.4" fill="none" stroke="#a9c0f2" stroke-width="1"/><path d="M1418 72.2h12.6c-1.6-1.4-2-2.8-2-5.6 0-3.6-1.8-5.9-4.3-5.9s-4.3 2.3-4.3 5.9c0 2.8-.4 4.2-2 5.6z" fill="none" stroke="#a6bdf0" stroke-width="1"/><path d="M1423 73.4l1.3 1.3 1.3-1.3" fill="none" stroke="#a6bdf0" stroke-width="1"/><path d="M1456.600 67.600L1456.60 62.85" stroke="#f0a830" stroke-width="2.600" opacity="0.90"/><circle cx="1456.60" cy="60.40" r="2.350" fill="#fff" stroke="#f0a830" stroke-width=".8" opacity="0.68"/><path d="M1456.600 67.600L1460.43 64.23" stroke="#f08a5a" stroke-width="2.600" opacity="0.55"/><circle cx="1462.40" cy="62.50" r="2.350" fill="#fff" stroke="#f08a5a" stroke-width=".8" opacity="0.41"/><path d="M1456.600 67.600L1460.82 68.26" stroke="#e8306a" stroke-width="2.600" opacity="0.90"/><circle cx="1463.00" cy="68.60" r="2.350" fill="#fff" stroke="#e8306a" stroke-width=".8" opacity="0.68"/><path d="M1456.600 67.600L1458.65 71.63" stroke="#3f3f70" stroke-width="2.600" opacity="0.80"/><circle cx="1459.70" cy="73.70" r="2.350" fill="#fff" stroke="#3f3f70" stroke-width=".8" opacity="0.60"/><path d="M1456.600 67.600L1454.36 71.49" stroke="#1a8aa8" stroke-width="2.600" opacity="0.85"/><circle cx="1453.20" cy="73.50" r="2.350" fill="#fff" stroke="#1a8aa8" stroke-width=".8" opacity="0.64"/><path d="M1456.600 67.600L1452.05 68.26" stroke="#7fa8cc" stroke-width="2.600" opacity="0.60"/><circle cx="1449.70" cy="68.60" r="2.350" fill="#fff" stroke="#7fa8cc" stroke-width=".8" opacity="0.45"/><path d="M1456.600 67.600L1452.90 64.30" stroke="#20a868" stroke-width="2.600" opacity="0.85"/><circle cx="1451.00" cy="62.60" r="2.350" fill="#fff" stroke="#20a868" stroke-width=".8" opacity="0.64"/><path d="M1456.600 64.800a2.800 2.800 0 0 0 0 5.600z" fill="#7f8fd0"/><path d="M1456.600 64.800a2.800 2.800 0 0 1 0 5.600z" fill="#fff"/><defs><radialGradient id="av1" cx=".5" cy=".42" r=".6"><stop offset="0" stop-color="#c99a78"/><stop offset=".38" stop-color="#a87a58"/><stop offset=".62" stop-color="#4a3a2a"/><stop offset="1" stop-color="#6a7a3a"/></radialGradient><filter id="sh" x="-40%" y="-40%" width="180%" height="190%"><feGaussianBlur stdDeviation="1.8"/></filter><clipPath id="cpA"><circle cx="1491.200" cy="68.300" r="9.150"/></clipPath><filter id="phA" x="-20%" y="-20%" width="140%" height="140%"><feGaussianBlur stdDeviation=".7"/></filter></defs><circle cx="1491.6" cy="70.2" r="9.2" fill="#000" opacity=".28" filter="url(#sh)"/><g clip-path="url(#cpA)"><g transform="translate(1491.200,68.300) scale(.576) translate(-816.100,-476.900)"><g filter="url(#phA)"><rect x="798" y="459" width="36" height="36" fill="#8a9c36"/><ellipse cx="804" cy="474" rx="5" ry="8" fill="#a9a040"/><ellipse cx="803.500" cy="484" rx="5" ry="5" fill="#96922e"/><ellipse cx="829" cy="474" rx="5" ry="10" fill="#7fa62e"/><ellipse cx="830" cy="479.500" rx="1.600" ry="1.600" fill="#e8d23a"/><ellipse cx="817.200" cy="468" rx="10.200" ry="7" fill="#4a3c33"/><ellipse cx="824.600" cy="474" rx="3.200" ry="4.600" fill="#4f4036"/><ellipse cx="809.800" cy="471.500" rx="2.600" ry="4" fill="#55453a"/><ellipse cx="816.200" cy="478.600" rx="6.300" ry="8.200" fill="#d8a48a"/><ellipse cx="816" cy="473.600" rx="4.800" ry="2.600" fill="#dfb49c"/><ellipse cx="816.200" cy="484.600" rx="4.400" ry="3.200" fill="#c29a8a"/><ellipse cx="813" cy="476.700" rx="1.300" ry=".7" fill="#5a4238"/><ellipse cx="819.500" cy="476.700" rx="1.300" ry=".7" fill="#5a4238"/><path d="M813.400 482.600c1.800 1.200 4 1.200 5.800 0" fill="none" stroke="#8a5648" stroke-width=".9"/><path d="M802 497l4-8.600 6.200-2.400 3.800 3.400 4.600-3.600 7 1.400 4.400 9.800z" fill="#1f3049"/><path d="M812.200 486l3.800 4.600 4-4.600-1.400 7h-5z" fill="#c9a08c"/></g></g></g><path d="M1516.4 60.2h10.2M1518.2 60.2v6.6c-1.4 .9-2.4 2-2.6 3.2h11.8c-.2-1.2-1.2-2.3-2.6-3.2v-6.6" fill="none" stroke="#a9bff0" stroke-width="1"/><path d="M1521.5 70v5.6" stroke="#a9bff0" stroke-width="1"/></svg>
<div class="t" style="left:114.400px;top:48.300px;height:36px;line-height:36px;font-size:30.500px;color:#14123e;transform-origin:0 50%;transform:scaleX(.957)">Sco<span style="color:#e0224f">Q</span>i</div>
<div class="t" style="left:688.300px;top:46.700px;height:34px;line-height:34px;font-size:26.400px;color:#10bf8d;-webkit-text-stroke:.55px #10bf8d">Q</div><div class="t" style="left:710.400px;top:50.100px;height:30px;line-height:30px;font-size:23px;color:#14123e;letter-spacing:.5px;-webkit-text-stroke:.3px #14123e">alitel</div><div class="t" style="left:721.800px;top:74.100px;font-size:10px;color:#10bf8d;letter-spacing:.25px;-webkit-text-stroke:.2px #10bf8d">conform</div><div class="t" style="left:771px;top:52.100px;font-size:5.500px;font-weight:bold;letter-spacing:2.15px;color:#6cc07a;background:linear-gradient(90deg,#36c48a,#a8b85a,#36c48a);-webkit-background-clip:text;background-clip:text;-webkit-text-fill-color:transparent">Premium</div>
<div class="a" id="side"></div>
<div class="shead" style="top:86px;height:20px;background:linear-gradient(#b4c6ec 0%,#dfe7f7 18%,#fff 42%,#fff 68%,#cfdaf3 88%,#9db4e6 100%)"><span class="t" style="left:2.5px;top:3.4px;font-size:11.3px;color:#4a74c8">Fiches</span></div>
<div class="shead" style="top:807px;height:19px;background:linear-gradient(#9db4e6 0%,#dfe7f7 22%,#fff 42%,#fff 68%,#d6dff4 88%,#b4c6ec 100%)"><span class="t" style="left:3px;top:3.6px;font-size:8.6px;color:#4a74c8">Actions</span></div>
<div class="a" style="left:86px;top:86px;width:4px;height:740px;background:linear-gradient(90deg,#ebebeb,#f3f3f3 60%,#fbfbfb)"></div><div class="a" style="left:87px;top:407px;width:2px;height:15px;background:#d4d4d4"></div><div class="a" style="left:87px;top:425px;width:2px;height:15px;background:#d4d4d4"></div>
<svg class="a" style="left:0;top:0" width="90" height="826"><path d="M31.2 129h15.8a2.2 2.2 0 0 1 2.2 2.2v16.6l-7.2 7.1h-10.8a2.2 2.2 0 0 1-2.2-2.2v-21.5a2.2 2.2 0 0 1 2.2-2.2z" fill="#eef1fb"/><path d="M42.6 154.4v-5.4a.9.9 0 0 1 .9-.9h5.2z" fill="#fff" stroke="#4778ce" stroke-width=".9" stroke-linejoin="round"/><path d="M38.6 131.7l-6.2 6.3M43 133.3l-8.6 8.7" stroke="#4778ce" stroke-width="1" stroke-linecap="round"/><circle cx="33.7" cy="199.3" r="5.5" fill="none" stroke="#e8edfa" stroke-width="1"/><circle cx="33.7" cy="213" r="5.5" fill="none" stroke="#e8edfa" stroke-width="1"/><path d="M38.3 202.6l15.3 12.8M38.3 209.7l15.3-12.8" stroke="#e8edfa" stroke-width="1" stroke-linecap="round"/><path d="M30 264.8h7.6c.8 0 1.4.3 1.9.9l1.7 1.8c.4.4 1 .7 1.6.7h8.8a2.2 2.2 0 0 1 2.2 2.2v14.2a2.2 2.2 0 0 1-2.2 2.2H30a2.2 2.2 0 0 1-2.2-2.2v-17.6a2.2 2.2 0 0 1 2.2-2.2z" fill="none" stroke="#e8edfa" stroke-width="1"/><path d="M33.7 335v10.6M48.3 335v1.2c0 3.4-2.4 5.2-6 5.2h-8.6" fill="none" stroke="#eef1fb" stroke-width="2.9"/><circle cx="33.7" cy="331.6" r="3.1" fill="#4778ce" stroke="#eef1fb" stroke-width="2.9"/><circle cx="48.3" cy="331.6" r="3.1" fill="#4778ce" stroke="#eef1fb" stroke-width="2.9"/><circle cx="33.7" cy="349.2" r="3.1" fill="#4778ce" stroke="#eef1fb" stroke-width="2.9"/><path d="M41 387.3h8.6l4.6 4.6v12a2.2 2.2 0 0 1-2.2 2.2h-11a2.2 2.2 0 0 1-2.2-2.2v-14.4a2.2 2.2 0 0 1 2.2-2.2z" fill="#eef1fb"/><path d="M36.4 394.7h-5.2a1.8 1.8 0 0 0-1.8 1.8v12.7a1.8 1.8 0 0 0 1.8 1.8h10.6a1.8 1.8 0 0 0 1.8-1.8v-1.4" fill="none" stroke="#eef1fb" stroke-width="2.9"/><path d="M28.6 456.9h12.6l4.8 4.8v17.8a2.3 2.3 0 0 1-2.3 2.3H28.6a2.3 2.3 0 0 1-2.3-2.3v-20.3a2.3 2.3 0 0 1 2.3-2.3z" fill="#eef1fb"/><path d="M30.4 463.3h11.4M30.4 468.3h11.4M30.4 473.4h4.8" stroke="#4778ce" stroke-width="1.5"/><circle cx="47.400" cy="475" r="7.600" fill="#eef1fb" stroke="#4778ce" stroke-width="1.4"/><path d="M46.2 474h1.9v4.2M45.8 478.4h3.6" fill="none" stroke="#4778ce" stroke-width="1.4"/><circle cx="47.5" cy="471.3" r="1.05" fill="#4778ce"/></svg>
<div class="sl" style="top:166.1px;left:0.0px;width:78.6px">Liste des<br>fiches</div><div class="sl" style="top:230.6px;left:0.0px;width:81.4px">Liste des<br>actions</div><div class="sl" style="top:299.9px;left:0.0px;width:81.8px">Dossiers</div><div class="sl" style="top:363.5px;left:0.0px;width:81.6px">Accès rapide</div><div class="sl" style="top:424.3px;left:0.0px;width:81.6px">Données de la<br>fiche</div><div class="sl" style="top:492.3px;left:0.0px;width:82.2px">Descriptif</div>
<div class="t" style="left:92px;top:88.6px;font-size:10.7px;color:#4a7ad6">Environnement des fiches - 18 éléments trouvés - Page 1 sur 1</div>
<div class="a" style="left:248px;top:103px;width:6px;height:723px;background:#ececec"></div><div class="a" style="left:126.6px;top:148.4px;width:121.4px;height:12.6px;background:#dbe5f6"></div>
<svg class="a" style="left:0;top:0" width="260" height="260"><g fill="none" stroke="#c2cfca" stroke-width="0.90" stroke-linecap="round"><path d="M97.00 109.79A5.00 5.00 0 0 1 106.40 109.79"/><path d="M106.40 109.79l0.30 -2.60M106.40 109.79l-2.60 -0.20"/><path d="M106.40 113.21A5.00 5.00 0 0 1 97.00 113.21"/><path d="M97.00 113.21l-0.30 2.60M97.00 113.21l2.60 0.20"/></g><path d="M230.60 109.00l9.20 9.20M239.80 109.00l-9.20 9.20" stroke="#c3d3f0" stroke-width="0.80" fill="none"/><rect x="92.35" y="126.35" width="6.500" height="6.500" rx=".4" fill="#efeee9" stroke="#93a8c0" stroke-width=".9"/><path d="M93.50 129.60h4.200" stroke="#111" stroke-width="1.300"/><g stroke="#8197c2" stroke-width=".9" stroke-dasharray="1.700 1.300" fill="none"><path d="M99 129.4h3.5"/><path d="M108.3 135v107"/><path d="M108.3 141.90h7.5"/><path d="M108.3 154.84h7.5"/><path d="M108.3 167.78h7.5"/><path d="M108.3 180.72h7.5"/><path d="M108.3 193.66h7.5"/><path d="M108.3 206.60h7.5"/><path d="M111.8 219.54h4"/><path d="M108.3 232.48h7.5"/><path d="M111.8 245.42h4"/></g><circle cx="107.7" cy="125.9" r="2.9" fill="#4478d4"/><path d="M102.4 134.6v-1.2c0-2.2 2.2-3.4 5.3-3.4s5.3 1.2 5.3 3.4v1.2z" fill="#4478d4"/><path d="M112.200 127.400l1.600 1.600 3.300-3.300" fill="none" stroke="#4478d4" stroke-width="1.250"/><path d="M116.60 135.70h6.6a1.2 1.2 0 0 1 1.2 1.2v6.9l-3.2 3.3h-4.6a1.2 1.2 0 0 1-1.2-1.2v-9a1.2 1.2 0 0 1 1.2-1.2z" fill="#4173d2"/><path d="M120.90 147.10v-2.900a.5.5 0 0 1 .5-.5h2.800z" fill="#eef2fc"/><path d="M120.00 137.00l-2.800 2.900M121.80 137.80l-3.600 3.800" stroke="#eef2fc" stroke-width=".95"/><path d="M116.60 148.64h6.6a1.2 1.2 0 0 1 1.2 1.2v6.9l-3.2 3.3h-4.6a1.2 1.2 0 0 1-1.2-1.2v-9a1.2 1.2 0 0 1 1.2-1.2z" fill="#4173d2"/><path d="M120.90 160.04v-2.900a.5.5 0 0 1 .5-.5h2.800z" fill="#eef2fc"/><path d="M120.00 149.94l-2.800 2.900M121.80 150.74l-3.600 3.800" stroke="#eef2fc" stroke-width=".95"/><path d="M116.60 161.58h6.6a1.2 1.2 0 0 1 1.2 1.2v6.9l-3.2 3.3h-4.6a1.2 1.2 0 0 1-1.2-1.2v-9a1.2 1.2 0 0 1 1.2-1.2z" fill="#4173d2"/><path d="M120.90 172.98v-2.900a.5.5 0 0 1 .5-.5h2.800z" fill="#eef2fc"/><path d="M120.00 162.88l-2.800 2.900M121.80 163.68l-3.600 3.800" stroke="#eef2fc" stroke-width=".95"/><path d="M116.60 174.52h6.6a1.2 1.2 0 0 1 1.2 1.2v6.9l-3.2 3.3h-4.6a1.2 1.2 0 0 1-1.2-1.2v-9a1.2 1.2 0 0 1 1.2-1.2z" fill="#4173d2"/><path d="M120.90 185.92v-2.900a.5.5 0 0 1 .5-.5h2.800z" fill="#eef2fc"/><path d="M120.00 175.82l-2.800 2.900M121.80 176.62l-3.600 3.800" stroke="#eef2fc" stroke-width=".95"/><path d="M116.60 187.46h6.6a1.2 1.2 0 0 1 1.2 1.2v6.9l-3.2 3.3h-4.6a1.2 1.2 0 0 1-1.2-1.2v-9a1.2 1.2 0 0 1 1.2-1.2z" fill="#4173d2"/><path d="M120.90 198.86v-2.900a.5.5 0 0 1 .5-.5h2.800z" fill="#eef2fc"/><path d="M120.00 188.76l-2.800 2.900M121.80 189.56l-3.600 3.800" stroke="#eef2fc" stroke-width=".95"/><path d="M116.60 200.40h6.6a1.2 1.2 0 0 1 1.2 1.2v6.9l-3.2 3.3h-4.6a1.2 1.2 0 0 1-1.2-1.2v-9a1.2 1.2 0 0 1 1.2-1.2z" fill="#4173d2"/><path d="M120.90 211.80v-2.900a.5.5 0 0 1 .5-.5h2.800z" fill="#eef2fc"/><path d="M120.00 201.70l-2.800 2.900M121.80 202.50l-3.600 3.800" stroke="#eef2fc" stroke-width=".95"/><path d="M116.60 213.34h6.6a1.2 1.2 0 0 1 1.2 1.2v6.9l-3.2 3.3h-4.6a1.2 1.2 0 0 1-1.2-1.2v-9a1.2 1.2 0 0 1 1.2-1.2z" fill="#4173d2"/><path d="M120.90 224.74v-2.900a.5.5 0 0 1 .5-.5h2.800z" fill="#eef2fc"/><path d="M120.00 214.64l-2.800 2.900M121.80 215.44l-3.600 3.800" stroke="#eef2fc" stroke-width=".95"/><path d="M116.60 226.28h6.6a1.2 1.2 0 0 1 1.2 1.2v6.9l-3.2 3.3h-4.6a1.2 1.2 0 0 1-1.2-1.2v-9a1.2 1.2 0 0 1 1.2-1.2z" fill="#4173d2"/><path d="M120.90 237.68v-2.900a.5.5 0 0 1 .5-.5h2.800z" fill="#eef2fc"/><path d="M120.00 227.58l-2.800 2.900M121.80 228.38l-3.600 3.800" stroke="#eef2fc" stroke-width=".95"/><path d="M116.60 239.22h6.6a1.2 1.2 0 0 1 1.2 1.2v6.9l-3.2 3.3h-4.6a1.2 1.2 0 0 1-1.2-1.2v-9a1.2 1.2 0 0 1 1.2-1.2z" fill="#4173d2"/><path d="M120.90 250.62v-2.900a.5.5 0 0 1 .5-.5h2.800z" fill="#eef2fc"/><path d="M120.00 240.52l-2.800 2.900M121.80 241.32l-3.600 3.800" stroke="#eef2fc" stroke-width=".95"/><rect x="104.65" y="216.29" width="6.500" height="6.500" rx=".4" fill="#efeee9" stroke="#93a8c0" stroke-width=".9"/><path d="M105.80 219.54h4.200" stroke="#111" stroke-width="1.300"/><path d="M107.90 217.44v4.200" stroke="#111" stroke-width="1.300"/><rect x="104.65" y="242.17" width="6.500" height="6.500" rx=".4" fill="#efeee9" stroke="#93a8c0" stroke-width=".9"/><path d="M105.80 245.42h4.200" stroke="#111" stroke-width="1.300"/><path d="M107.90 243.32v4.200" stroke="#111" stroke-width="1.300"/></svg>
<div class="tr" style="left:122.300px;top:122.800px;font-size:9.450px">Gestionnaire</div><div class="tr" style="left:128.700px;top:136.40px">En création (48)</div><div class="tr" style="left:128.700px;top:149.34px">Analyse (18)</div><div class="tr" style="left:128.700px;top:162.28px">Gestion des risques (2)</div><div class="tr" style="left:128.700px;top:175.22px">Décision interne (7)</div><div class="tr" style="left:128.700px;top:188.16px">Décision externe (2)</div><div class="tr" style="left:128.700px;top:201.10px">Contrôle (9)</div><div class="tr" style="left:128.700px;top:214.04px">Mesure efficacité (4)</div><div class="tr" style="left:128.700px;top:226.98px">Soldées (49)</div><div class="tr" style="left:128.700px;top:239.92px">Processus</div>
<svg class="a" style="left:0;top:0" width="1536" height="125"><rect x="265.20" y="106.00" width="11.40" height="9.60" rx="1.6" fill="none" stroke="#a9b8ea" stroke-width=".9"/><path d="M265.20 109.46h11.40M265.20 112.53h11.40M268.16 106.00v9.60" stroke="#a9b8ea" stroke-width=".8" fill="none"/><path d="M292.4 106.6v8.8" stroke="#a6b4ec" stroke-width=".9"/><path d="M293.20 111.00l5.00 -4.20v8.40z" fill="none" stroke="#b4bff0" stroke-width=".8" stroke-linejoin="round"/><path d="M298.40 111.00l5.00 -4.20v8.40z" fill="none" stroke="#b4bff0" stroke-width=".8" stroke-linejoin="round"/><path d="M314.80 111.00l5.40 -4.20v8.40z" fill="none" stroke="#b4bff0" stroke-width=".8" stroke-linejoin="round"/><path d="M320.40 111.00l5.40 -4.20v8.40z" fill="none" stroke="#b4bff0" stroke-width=".8" stroke-linejoin="round"/><g fill="none" stroke="#bccac4" stroke-width="0.90" stroke-linecap="round"><path d="M338.20 109.19A5.00 5.00 0 0 1 347.60 109.19"/><path d="M347.60 109.19l0.30 -2.60M347.60 109.19l-2.60 -0.20"/><path d="M347.60 112.61A5.00 5.00 0 0 1 338.20 112.61"/><path d="M338.20 112.61l-0.30 2.60M338.20 112.61l2.60 0.20"/></g><path d="M365.40 111.00l-5.40 -4.20v8.40z" fill="none" stroke="#b4bff0" stroke-width=".8" stroke-linejoin="round"/><path d="M371.00 111.00l-5.40 -4.20v8.40z" fill="none" stroke="#b4bff0" stroke-width=".8" stroke-linejoin="round"/><path d="M387.40 111.00l-5.00 -4.20v8.40z" fill="none" stroke="#b4bff0" stroke-width=".8" stroke-linejoin="round"/><path d="M392.60 111.00l-5.00 -4.20v8.40z" fill="none" stroke="#b4bff0" stroke-width=".8" stroke-linejoin="round"/><path d="M393.5 106.6v8.8" stroke="#a6b4ec" stroke-width=".9"/><path d="M1187.600 117.400h9.600M1189.400 115.800l5.400-9.200 1 .3 1.400 3.400" fill="none" stroke="#b2bbea" stroke-width=".85"/><circle cx="1197.800" cy="113.500" r="2.600" fill="#fff" stroke="#b2bbea" stroke-width=".85"/><path d="M1199.700 115.500l2.200 2.500" stroke="#b2bbea" stroke-width=".85"/><path d="M1191.600 113.200h2M1192.600 112.200v2" stroke="#8a96e0" stroke-width=".7"/><path d="M1207.2 106.8h7l-2.8 3.4v4l-1.4-.9v-3.1z" fill="none" stroke="#b2bbea" stroke-width=".8"/><path d="M1214.6 109.4h3.6M1214 111.8h4.2M1214 114.2h4.2" stroke="#b2bbea" stroke-width=".8"/><path d="M1224.6 116l.9-3.4 6.6-6.6a1.3 1.3 0 0 1 1.8 0l.7.7a1.3 1.3 0 0 1 0 1.8l-6.6 6.6zM1230.8 107.4l2.4 2.4M1226.6 111.6l5.2-5.2" fill="none" stroke="#b2bbea" stroke-width=".8"/><path d="M1244.4 108.2l-3.2 3.2 3.2 3.2M1250.8 108.2l3.2 3.2-3.2 3.2M1249 106.4l-2.8 10" fill="none" stroke="#b2bbea" stroke-width=".8"/><path d="M1261.4 117.2h207.6" stroke="#bfc3c8" stroke-width=".8"/><circle cx="1479.8" cy="110.4" r="4.3" fill="none" stroke="#c6cfe6" stroke-width=".8"/><path d="M1482.9 113.6l3.4 3.6" stroke="#c6cfe6" stroke-width=".8"/><circle cx="1497.7" cy="111.4" r="5.3" fill="none" stroke="#c6cfe6" stroke-width=".8"/><path d="M1495.8 109.5l3.8 3.8M1499.6 109.5l-3.8 3.8" stroke="#c6cfe6" stroke-width=".8"/><path d="M1509.6 106.8h6.6l2.2 2.2v6.8a.8.8 0 0 1-.8.8h-8a.8.8 0 0 1-.8-.8v-8.2a.8.8 0 0 1 .8-.8zM1511 106.8v2.6h4.4v-2.6" fill="none" stroke="#b8c4f0" stroke-width=".8"/><circle cx="1513.6" cy="113" r="1.6" fill="none" stroke="#b8c4f0" stroke-width=".8"/><g transform="translate(-4.200 .4)"><path d="M1260.4 91.2h2.4v4.6h-2.4zM1262.8 92.2c1-.4 1.4-1.2 1.6-2 .8 0 1 .8 .7 1.9h1.7c.6 0 .8 1 .2 1.2.5.3.3 1-.2 1.1.3.4.1.9-.4 1h-3.6" fill="none" stroke="#c8ccd8" stroke-width=".6"/></g><path d="M1404.6 92h3.4M1408.2 91.4c1.4-.5 2.6-.4 3.4.6.6.8.6 2.4 0 3.2-.6.8-1.800 1-3 .8l-2.600-.4c-.7-.1-.7-1 0-1.100M1406 92.800c-.6.100-.6.900 0 1" fill="none" stroke="#c8ccd8" stroke-width=".6"/></svg>
<div class="t" style="left:1274px;top:87.8px;font-size:8.55px;font-style:italic;color:#4d6ec4">Recherche sur la colonne Modèle</div>
<div class="a" style="left:254.5px;top:122.6px;width:1274px;height:14px;background:#faf9fc;border-top:1px solid #eceef8"></div><div class="sep" style="left:416.2px"></div><div class="sep" style="left:472.5px"></div><div class="sep" style="left:552.5px"></div><div class="sep" style="left:682.8px"></div><div class="sep" style="left:811.0px"></div><div class="sep" style="left:867.2px"></div><div class="sep" style="left:932.0px"></div><div class="sep" style="left:988.2px"></div><div class="sep" style="left:1080.8px"></div><div class="sep" style="left:1138.0px"></div><div class="sep" style="left:1194.3px"></div><div class="sep" style="left:1250.3px"></div><div class="sep" style="left:1330.5px"></div><div class="sep" style="left:1411.8px"></div><div class="sep" style="left:1491.5px"></div>
<div class="hd" style="left:313.6px;width:102.4px">N° de la fiche</div><div class="hd" style="left:432.4px;width:39.6px">Saisie le</div><div class="hd" style="left:499.0px;width:53.0px">Modèle</div><div class="hd" style="left:603.8px;width:78.2px">Saisie par</div><div class="hd" style="left:739.2px;width:71.8px">Phase</div><div class="hd" style="left:825.0px;width:42.0px">Décidé le</div><div class="hd" style="left:878.8px;width:53.2px">Découvert le</div><div class="hd" style="left:944.0px;width:44.0px">Analysé le</div><div class="hd" style="left:999.2px;width:81.2px">Nature du problème</div><div class="hd" style="left:1086.0px;width:51.6px">Décidé le (Client)</div><div class="hd" style="left:1148.5px;width:45.5px">Contrôlé le</div><div class="hd" style="left:1199.0px;width:51.2px">Efficacité prévue</div><div class="hd" style="left:1255.5px;width:74.5px">Efficacité réalisée</div><div class="hd" style="left:1352.8px;width:59.2px">Mois Saisie</div><div class="hd" style="left:1430.0px;width:61.0px">Année Saisie</div><div class="hd" style="left:1506.7px;width:20.3px">Mois Découverte</div><svg class="a" style="left:0;top:0" width="600" height="140"><path d="M531.400 126.200h5l-3.800 .2 2 4.400" fill="none" stroke="#8a8f9a" stroke-width=".6"/></svg>
<div class="a" style="left:254.5px;top:151.02px;width:1274px;height:14.22px;background:#dce6f7"></div><div class="a" style="left:1528px;top:123px;width:6.300px;height:149px;background:#aec4ea"></div><div class="a" style="left:254.900px;top:333.200px;width:567.800px;height:6.300px;background:#aec4ea"></div><div class="a" style="left:254.300px;top:123px;width:.8px;height:217px;background:#eef1fb"></div>
<div class="c" style="left:259.0px;top:137.00px;width:157.2px">MOUT-INT-0002</div><div class="c" style="left:418.4px;top:137.00px;width:56.0px;text-align:center">11/10/2022</div><div class="c" style="left:476.7px;top:137.00px;width:75.9px">SWISSMEC</div><div class="c" style="left:557.5px;top:137.00px;width:125.1px">swissmec Moutier - MARTIN Eléonore</div><div class="c" style="left:687.5px;top:137.00px;width:123.5px">En cours d'analyse</div><div class="c" style="left:1331.0px;top:137.00px;width:84.0px;text-align:center">10</div><div class="c" style="left:1412.3px;top:137.00px;width:82.7px;text-align:center">2022</div>
<div class="c" style="left:259.0px;top:151.52px;width:157.2px">SxD -001</div><div class="c" style="left:418.4px;top:151.52px;width:56.0px;text-align:center">06/02/2020</div><div class="c" style="left:476.7px;top:151.52px;width:75.9px">S&amp;D - Fiche Dysfonctionnement</div><div class="c" style="left:557.5px;top:151.52px;width:125.1px">Démonstrateur ScoQi</div><div class="c" style="left:687.5px;top:151.52px;width:123.5px">En cours d'analyse</div><div class="c" style="left:869.0px;top:151.52px;width:64.5px;text-align:center">14/01/2020</div><div class="c" style="left:992.5px;top:151.52px;width:88.5px">A4 - Traçabilité</div><div class="c" style="left:1331.0px;top:151.52px;width:84.0px;text-align:center">2</div><div class="c" style="left:1412.3px;top:151.52px;width:82.7px;text-align:center">2020</div>
<div class="c" style="left:259.0px;top:166.04px;width:157.2px">Client-008</div><div class="c" style="left:418.4px;top:166.04px;width:56.0px;text-align:center">22/06/2021</div><div class="c" style="left:476.7px;top:166.04px;width:75.9px">Réclamation client</div><div class="c" style="left:557.5px;top:166.04px;width:125.1px">BOULLE Bill</div><div class="c" style="left:687.5px;top:166.04px;width:123.5px">En cours d'analyse</div><div class="c" style="left:869.0px;top:166.04px;width:64.5px;text-align:center">12/02/2019</div><div class="c" style="left:992.5px;top:166.04px;width:88.5px">Erreur facturation</div><div class="c" style="left:1331.0px;top:166.04px;width:84.0px;text-align:center">6</div><div class="c" style="left:1412.3px;top:166.04px;width:82.7px;text-align:center">2021</div>
<div class="c" style="left:259.0px;top:180.56px;width:157.2px">Client-014</div><div class="c" style="left:418.4px;top:180.56px;width:56.0px;text-align:center">15/12/2022</div><div class="c" style="left:476.7px;top:180.56px;width:75.9px">Réclamation client</div><div class="c" style="left:557.5px;top:180.56px;width:125.1px">Démonstrateur ScoQi</div><div class="c" style="left:687.5px;top:180.56px;width:123.5px">En cours d'analyse</div><div class="c" style="left:869.0px;top:180.56px;width:64.5px;text-align:center">18/09/2019</div><div class="c" style="left:1331.0px;top:180.56px;width:84.0px;text-align:center">12</div><div class="c" style="left:1412.3px;top:180.56px;width:82.7px;text-align:center">2022</div>
<div class="c" style="left:259.0px;top:195.08px;width:157.2px">Client-007</div><div class="c" style="left:418.4px;top:195.08px;width:56.0px;text-align:center">20/11/2018</div><div class="c" style="left:476.7px;top:195.08px;width:75.9px">Réclamation client</div><div class="c" style="left:557.5px;top:195.08px;width:125.1px">Démonstrateur ScoQi</div><div class="c" style="left:687.5px;top:195.08px;width:123.5px">En cours d'analyse</div><div class="c" style="left:869.0px;top:195.08px;width:64.5px;text-align:center">21/10/2018</div><div class="c" style="left:992.5px;top:195.08px;width:88.5px">Panne régulière de matériel</div><div class="c" style="left:1331.0px;top:195.08px;width:84.0px;text-align:center">11</div><div class="c" style="left:1412.3px;top:195.08px;width:82.7px;text-align:center">2018</div>
<div class="c" style="left:259.0px;top:209.60px;width:157.2px">N.C. Interne -0020</div><div class="c" style="left:418.4px;top:209.60px;width:56.0px;text-align:center">18/12/2016</div><div class="c" style="left:476.7px;top:209.60px;width:75.9px">NC documentaire</div><div class="c" style="left:557.5px;top:209.60px;width:125.1px">Démonstrateur ScoQi</div><div class="c" style="left:687.5px;top:209.60px;width:123.5px">En cours d'analyse</div><div class="c" style="left:869.0px;top:209.60px;width:64.5px;text-align:center">14/09/2016</div><div class="c" style="left:992.5px;top:209.60px;width:88.5px">Documentation pas à jour</div><div class="c" style="left:1331.0px;top:209.60px;width:84.0px;text-align:center">12</div><div class="c" style="left:1412.3px;top:209.60px;width:82.7px;text-align:center">2016</div>
<div class="c" style="left:259.0px;top:224.12px;width:157.2px">RECLA--00201</div><div class="c" style="left:418.4px;top:224.12px;width:56.0px;text-align:center">14/04/2021</div><div class="c" style="left:476.7px;top:224.12px;width:75.9px">MAYR Réclamation</div><div class="c" style="left:557.5px;top:224.12px;width:125.1px">Démonstrateur ScoQi</div><div class="c" style="left:687.5px;top:224.12px;width:123.5px">En cours d'analyse</div><div class="c" style="left:992.5px;top:224.12px;width:88.5px">Bouton poussoir blanc réf</div><div class="c" style="left:1331.0px;top:224.12px;width:84.0px;text-align:center">4</div><div class="c" style="left:1412.3px;top:224.12px;width:82.7px;text-align:center">2021</div>
<div class="c" style="left:259.0px;top:238.64px;width:157.2px">RECLA--00200</div><div class="c" style="left:418.4px;top:238.64px;width:56.0px;text-align:center">22/06/2021</div><div class="c" style="left:476.7px;top:238.64px;width:75.9px">MAYR Réclamation</div><div class="c" style="left:557.5px;top:238.64px;width:125.1px">Démonstrateur ScoQi</div><div class="c" style="left:687.5px;top:238.64px;width:123.5px">En cours d'analyse</div><div class="c" style="left:1331.0px;top:238.64px;width:84.0px;text-align:center">6</div><div class="c" style="left:1412.3px;top:238.64px;width:82.7px;text-align:center">2021</div>
<div class="c" style="left:259.0px;top:253.16px;width:157.2px">N.C. fournisseurs -0004</div><div class="c" style="left:418.4px;top:253.16px;width:56.0px;text-align:center">05/01/2017</div><div class="c" style="left:476.7px;top:253.16px;width:75.9px">Litige fournisseur</div><div class="c" style="left:557.5px;top:253.16px;width:125.1px">BOULLE Bill</div><div class="c" style="left:687.5px;top:253.16px;width:123.5px">En cours d'analyse</div><div class="c" style="left:869.0px;top:253.16px;width:64.5px;text-align:center">05/01/2017</div><div class="c" style="left:992.5px;top:253.16px;width:88.5px">Erreur de Palettisation</div><div class="c" style="left:1331.0px;top:253.16px;width:84.0px;text-align:center">1</div><div class="c" style="left:1412.3px;top:253.16px;width:82.7px;text-align:center">2017</div>
<div class="c" style="left:259.0px;top:267.68px;width:157.2px">Client-012</div><div class="c" style="left:418.4px;top:267.68px;width:56.0px;text-align:center">30/01/2019</div><div class="c" style="left:476.7px;top:267.68px;width:75.9px">Infaco - Retour Client</div><div class="c" style="left:557.5px;top:267.68px;width:125.1px">BOULLE Bill</div><div class="c" style="left:687.5px;top:267.68px;width:123.5px">En cours d'analyse</div><div class="c" style="left:869.0px;top:267.68px;width:64.5px;text-align:center">29/01/2019</div><div class="c" style="left:992.5px;top:267.68px;width:88.5px">Casse de Matériel</div><div class="c" style="left:1331.0px;top:267.68px;width:84.0px;text-align:center">1</div><div class="c" style="left:1412.3px;top:267.68px;width:82.7px;text-align:center">2019</div>
<div class="c" style="left:259.0px;top:282.20px;width:157.2px">Amélioration -010</div><div class="c" style="left:418.4px;top:282.20px;width:56.0px;text-align:center">06/01/2023</div><div class="c" style="left:476.7px;top:282.20px;width:75.9px">INERIS - FAM</div><div class="c" style="left:557.5px;top:282.20px;width:125.1px">Démonstrateur ScoQi</div><div class="c" style="left:687.5px;top:282.20px;width:123.5px">En cours d'analyse</div><div class="c" style="left:992.5px;top:282.20px;width:88.5px">3 - Mécanique</div><div class="c" style="left:1331.0px;top:282.20px;width:84.0px;text-align:center">1</div><div class="c" style="left:1412.3px;top:282.20px;width:82.7px;text-align:center">2023</div>
<div class="c" style="left:259.0px;top:296.72px;width:157.2px">Amélioration -008</div><div class="c" style="left:418.4px;top:296.72px;width:56.0px;text-align:center">14/12/2022</div><div class="c" style="left:476.7px;top:296.72px;width:75.9px">INERIS - FAM</div><div class="c" style="left:557.5px;top:296.72px;width:125.1px">Démonstrateur ScoQi</div><div class="c" style="left:687.5px;top:296.72px;width:123.5px">En cours d'analyse</div><div class="c" style="left:1331.0px;top:296.72px;width:84.0px;text-align:center">12</div><div class="c" style="left:1412.3px;top:296.72px;width:82.7px;text-align:center">2022</div>
<div class="c" style="left:259.0px;top:311.24px;width:157.2px">N.C. Interne -0038</div><div class="c" style="left:418.4px;top:311.24px;width:56.0px;text-align:center">11/06/2021</div><div class="c" style="left:476.7px;top:311.24px;width:75.9px">DUERP - Fiche de risque</div><div class="c" style="left:557.5px;top:311.24px;width:125.1px">Démonstrateur ScoQi</div><div class="c" style="left:687.5px;top:311.24px;width:123.5px">En cours d'analyse</div><div class="c" style="left:992.5px;top:311.24px;width:88.5px">3 - Mécanique</div><div class="c" style="left:1331.0px;top:311.24px;width:84.0px;text-align:center">6</div><div class="c" style="left:1412.3px;top:311.24px;width:82.7px;text-align:center">2021</div>
<svg class="a" style="left:0;top:0" width="700" height="200"><defs><filter id="fs" x="-40%" y="-40%" width="180%" height="190%"><feGaussianBlur stdDeviation="2"/></filter></defs><circle cx="529.4" cy="103.4" r="18.6" fill="#000" opacity=".3" filter="url(#fs)"/><circle cx="529.200" cy="101.200" r="18.900" fill="#4377d0"/><path d="M520.800 101h16.800M529.200 92.600v16.800" stroke="#fff" stroke-width="2.800" stroke-linecap="round"/><g transform="translate(523.800,158) scale(1.14)"><path d="M4.300 1.100c0-.800 1.900-.800 1.900 0v5.200l.2-1.100c.2-.7 1.800-.5 1.800.3v1l.3-.7c.3-.6 1.700-.3 1.700.5v.9l.3-.4c.4-.5 1.500-.2 1.500.6v4.200c0 2-1.200 3.600-2.800 3.600h-3.400c-1 0-1.800-.5-2.400-1.400l-3-4.500c-.5-.8.600-1.600 1.300-1l1.600 1.500v-8.700z" fill="#fff" stroke="#222" stroke-width=".8" stroke-linejoin="round"/><path d="M6.600 9.400v3.200M8.400 9.400v3.200M10.200 9.400v3.200" stroke="#222" stroke-width=".6"/></g></svg>
<div class="a" style="left:254px;top:342px;width:1282px;height:5.6px;background:#eeeeee"></div><div class="a" style="left:560.4px;top:347.6px;width:2.8px;height:480px;background:#e9e9e9"></div>
<svg class="a" style="left:0;top:0" width="1536" height="826"><rect x="265.30" y="354.60" width="11.40" height="9.80" rx="1.6" fill="none" stroke="#b4c0ee" stroke-width=".9"/><path d="M265.30 358.13h11.40M265.30 361.26h11.40M268.26 354.60v9.80" stroke="#b4c0ee" stroke-width=".8" fill="none"/><g fill="none" stroke="#bccac4" stroke-width="0.90" stroke-linecap="round"><path d="M285.60 357.79A5.00 5.00 0 0 1 295.00 357.79"/><path d="M295.00 357.79l0.30 -2.60M295.00 357.79l-2.60 -0.20"/><path d="M295.00 361.21A5.00 5.00 0 0 1 285.60 361.21"/><path d="M285.60 361.21l-0.30 2.60M285.60 361.21l2.60 0.20"/></g><path d="M540.20 353.10l9.60 9.60M549.80 353.10l-9.60 9.60" stroke="#c3d3f0" stroke-width="0.80" fill="none"/><g fill="none" stroke="#a8b8b2" stroke-width="0.90" stroke-linecap="round"><path d="M571.10 356.89A5.00 5.00 0 0 1 580.50 356.89"/><path d="M580.50 356.89l0.30 -2.60M580.50 356.89l-2.60 -0.20"/><path d="M580.50 360.31A5.00 5.00 0 0 1 571.10 360.31"/><path d="M571.10 360.31l-0.30 2.60M571.10 360.31l2.60 0.20"/></g><g fill="none" stroke="#b4c0ee" stroke-width=".8"><path d="M593.6 353.4l10.400 10.400M604 353.400l-10.400 10.400"/><path d="M593.400 356.400v-3.200h3.200M600.800 353.200h3.200v3.200M604 360.800v3.200h-3.200M596.600 364h-3.200v-3.200"/></g><path d="M1513.20 352.80l9.60 9.60M1522.80 352.80l-9.60 9.60" stroke="#c3d3f0" stroke-width="0.80" fill="none"/><rect x="257.75" y="376.15" width="6.500" height="6.500" rx=".4" fill="#efeee9" stroke="#93a8c0" stroke-width=".9"/><path d="M258.90 379.40h4.200" stroke="#111" stroke-width="1.300"/><g><path d="M272.400 377.300c3.200-.600 6 .900 6.200 3.500.200 2.800-2.600 5.100-6.200 5.100s-5.800-1.700-5.700-4.100c.100-2.200 2.600-4 5.700-4.500z" fill="#ff9500"/><ellipse cx="271.700" cy="382.300" rx="3.300" ry="2.350" fill="#fff"/><ellipse cx="271.600" cy="382.400" rx="2.100" ry="1.500" fill="#ff9500"/><circle cx="271.200" cy="382.300" r=".65" fill="#fff"/><path d="M275.700 377.500c1.500-.800 2.900.300 2.400 1.900M275.500 375.300c3.100-1.200 5.600 1.100 4.300 4.100" fill="none" stroke="#ff9500" stroke-width="1.150" stroke-linecap="round"/></g><rect x="270.55" y="434.87" width="6.500" height="6.500" rx=".4" fill="#efeee9" stroke="#93a8c0" stroke-width=".9"/><path d="M271.70 438.12h4.200" stroke="#111" stroke-width="1.300"/><path d="M273.80 436.02v4.200" stroke="#111" stroke-width="1.300"/><g fill="none" stroke="#6a70d2" stroke-width="1.050"><ellipse cx="282.700" cy="391.80" rx="2.700" ry="1.700" transform="rotate(28 282.700 391.80)"/><ellipse cx="282.700" cy="397.20" rx="2.700" ry="1.700" transform="rotate(-28 282.700 397.20)"/></g><g fill="#fff" stroke="#8a90de" stroke-width=".8" stroke-linejoin="round"><path d="M284.800 393.00l8.300 3.300-.900 1.300z"/><path d="M284.800 396.00l8.300-3.300-.900-1.300z"/></g><g fill="#5a60c6"><circle cx="286.600" cy="406.24" r="2.350"/><circle cx="282.500" cy="404.54" r="1.700"/><circle cx="290.700" cy="404.54" r="1.700"/><path d="M282.100 414.04v-1.600c0-2.500 1.700-3.900 4.500-3.900s4.500 1.400 4.500 3.900v1.600c0 .500-.400.900-.900.900h-7.200c-.500 0-.900-.400-.900-.900z"/><path d="M280 409.64c0-1.700 1-2.500 2.500-2.500.700 0 1.300.200 1.700.500-.800.500-1.400 1.300-1.700 2.300zM293.200 409.64c0-1.700-1-2.500-2.500-2.500-.700 0-1.300.200-1.700.500.800.500 1.400 1.300 1.700 2.300z"/></g><g fill="#6367c9"><rect x="280.00" y="418.98" width="1.30" height="10" opacity="1.00"/><rect x="281.90" y="418.98" width="0.70" height="10" opacity="0.60"/><rect x="283.20" y="418.98" width="0.90" height="10" opacity="0.80"/><rect x="284.70" y="418.98" width="0.70" height="10" opacity="0.60"/><rect x="285.90" y="418.98" width="1.10" height="10" opacity="0.85"/><rect x="287.50" y="418.98" width="0.80" height="10" opacity="0.70"/><rect x="288.80" y="418.98" width="1.10" height="10" opacity="0.85"/><rect x="290.30" y="418.98" width="0.70" height="10" opacity="0.60"/><rect x="291.50" y="418.98" width="1.50" height="10" opacity="1.00"/></g><rect x="280.500" y="433.37" width="12.200" height="9.300" rx="1" fill="#fff" stroke="#5659c4" stroke-width="1.050"/><rect x="280.500" y="435.52" width="12.200" height="2.100" fill="#5659c4"/><path d="M282.200 440.62h1.500M285 440.62h1.500" stroke="#5659c4" stroke-width=".9"/><path d="M283.600 447.36h7.600c.7 0 1.100.600.900 1.200l-1.900 7.300c-.1.500-.6.900-1.200.900h-8c-.8 0-1.400-.700-1.200-1.500l1.800-6.600c.2-.800.900-1.300 1.700-1.300z" fill="#5a5fc6"/><path d="M284.800 449.36h4.600M284.400 450.86h4.600" stroke="#d6d7f3" stroke-width=".8"/><path d="M280.800 455.36h8.600" stroke="#dfe0f6" stroke-width=".7"/><rect x="280.500" y="462.25" width="12.200" height="9.300" rx=".6" fill="#fff" stroke="#5659c4" stroke-width="1.050"/><circle cx="283.200" cy="464.60" r="1.050" fill="#5659c4"/><path d="M282 469.30l2.200-2.200 1.200 1 2.400-3.200 3.200 3.400v1.600h-9z" fill="#5659c4"/><path d="M282.600 475.04h6.200v1.300h-.9l.4 3.900c1.300.5 2.100 1.400 2.100 2.300h-9.400c0-.9.800-1.800 2.100-2.300l.4-3.900h-.9z" fill="#5a5fc6"/><path d="M285.700 482.54v4.200" stroke="#5a5fc6" stroke-width="1.100"/><rect x="280.900" y="490.98" width="2" height="6.200" fill="#5a5fc6"/><path d="M283 490.98h6.600c.9 0 1.500.5 1.600 1.300l.400 3c.1.900-.5 1.700-1.500 1.700h-1.900c.2 1.300.1 2.600-.6 3.400-.6.600-1.500.2-1.500-.600 0-1.500-1.100-2.800-3.100-3.600" fill="none" stroke="#5a5fc6" stroke-width="1.100" stroke-linejoin="round"/><g fill="none" stroke="#5a5fc6"><circle cx="283.200" cy="507.92" r="2.450" stroke-width="1.500"/><path d="M285 509.52l6.200 5M289.300 513.02l1.500-1.800M287.600 511.62l1.300-1.600" stroke-width="1.300"/></g><path d="M281 529.36l6.200-5.700" stroke="#5a5fc6" stroke-width="2.300" stroke-linecap="round"/><path d="M291.300 524.56a3.200 3.200 0 1 1-3.200-4.100l-1.100 2.200 1.300 1.700z" fill="#5a5fc6"/><g stroke-linejoin="round"><path d="M279.900 539.80l7.300-5.800 6 5.400-7.700 6.900z" fill="#fff36e" stroke="#6a5a10" stroke-width=".5"/><path d="M284.200 537.80l2.800-2.400 3.800 3.500-2.600 2.400z" fill="#fffde0"/><path d="M287 534.40l-1.500 11" stroke="#fff" stroke-width="1" fill="none"/><path d="M279.900 539.90l5.600 6.300 7.700-6.900" fill="none" stroke="#5a1a00" stroke-width="1.500"/></g><g stroke-linejoin="round"><path d="M279.900 554.34l7.300-5.800 6 5.400-7.700 6.900z" fill="#fff36e" stroke="#6a5a10" stroke-width=".5"/><path d="M284.200 552.34l2.800-2.400 3.800 3.500-2.600 2.400z" fill="#fffde0"/><path d="M287 548.94l-1.500 11" stroke="#fff" stroke-width="1" fill="none"/><path d="M279.900 554.44l5.600 6.300 7.700-6.900" fill="none" stroke="#5a1a00" stroke-width="1.500"/></g></svg>
<div class="tr" style="left:284.100px;top:374.700px">SxD -001</div><div class="tr" style="left:297.200px;top:389.20px">Actions</div><div class="tr" style="left:297.200px;top:403.74px">Pour information</div><div class="tr" style="left:297.200px;top:418.28px">Produits</div><div class="tr" style="left:297.200px;top:432.82px">Coûts</div><div class="tr" style="left:297.200px;top:447.36px">Documents associés</div><div class="tr" style="left:297.200px;top:461.90px">Photos associées</div><div class="tr" style="left:297.200px;top:476.44px">Causes</div><div class="tr" style="left:297.200px;top:490.98px">Conséquences</div><div class="tr" style="left:297.200px;top:505.52px">Mots Clés</div><div class="tr" style="left:297.200px;top:520.06px">Outils</div><div class="tr" style="left:297.200px;top:534.60px">Liaisons Pères</div><div class="tr" style="left:297.200px;top:549.14px">Liaisons Fils</div>
<div class="t" style="left:625.700px;top:349.600px;height:14px;line-height:14px;font-size:12.200px;color:#b3b3b3;transform-origin:0 50%;transform:scaleX(.842)">Informations</div><div class="t" style="left:692.200px;top:349.600px;height:14px;line-height:14px;font-size:12.200px;color:#a9a9a9;transform-origin:0 50%;transform:scaleX(.85)">Workflow</div><div class="a" style="left:692.200px;top:363px;width:42.400px;height:1px;background:#a9c1ec"></div>
<div class="a" style="left:564px;top:418.600px;width:960px;height:10.400px;background:linear-gradient(#fdfdfd,#f6f6f6 45%,#fbfbfb 75%,#fff)"></div><div class="t" style="left:1008px;top:391.400px;height:15px;line-height:15px;font-size:13.200px;font-weight:bold;letter-spacing:1.800px;color:#7099dc">SXD -001</div>
<div class="a" style="left:1524.700px;top:366.400px;width:6.400px;height:379.600px;background:#aec4ea"></div>
<svg class="a" style="left:0;top:0" width="1536" height="826"><g stroke="#484848" stroke-width="2.400" stroke-dasharray="2.400 2.400" fill="none"><path d="M680.200 477.00H796"/><path d="M680.200 592.60H796"/><path d="M680.200 708.30H796"/><path d="M680.200 823.90H796"/><path d="M633.600 508.30V561.10"/><path d="M633.600 623.90V676.80"/><path d="M633.600 739.60V792.40"/></g></svg>
<div class="el" style="left:584.600px;top:445.30px;width:94.400px;height:62.800px;line-height:67.400px;background:#8cb82b"><span style="display:inline-block;transform:scaleX(.93)">Création</span></div><div class="el" style="left:584.600px;top:560.90px;width:94.400px;height:62.800px;line-height:67.400px;background:#7b7ee6"><span style="display:inline-block;transform:scaleX(.93)">Analyse</span></div><div class="el" style="left:584.600px;top:676.60px;width:94.400px;height:62.800px;line-height:67.400px;background:#fa1a1a"><span style="display:inline-block;transform:scaleX(.93)">Décision interne</span></div><div class="el" style="left:584.600px;top:792.20px;width:94.400px;height:62.800px;line-height:67.400px;background:#fa1a1a"><span style="display:inline-block;transform:scaleX(.93)">Contrôle</span></div>
<div class="br" style="left:836.400px;top:449.60px;height:54.00px"></div><div class="br" style="left:836.400px;top:572.20px;height:40.40px"></div><div class="br" style="left:836.400px;top:694.00px;height:27.40px"></div><div class="br" style="left:836.400px;top:809.40px;height:27.40px"></div>
<div class="wl" style="left:860px;top:451.00px">Commencée le</div><div class="wl" style="left:994.200px;top:451.00px">06/02/2020</div><div class="dt" style="top:449.80px"></div><div class="dt" style="top:455.30px"></div><div class="wl" style="left:860px;top:464.70px">Signataire</div><div class="wl" style="left:994.200px;top:464.70px">Démonstrateur ScoQi</div><div class="dt" style="top:463.50px"></div><div class="dt" style="top:469.00px"></div><div class="wl" style="left:860px;top:478.40px">Signée le</div><div class="wl" style="left:994.200px;top:478.40px">06/02/2020</div><div class="dt" style="top:477.20px"></div><div class="dt" style="top:482.70px"></div><div class="wl" style="left:860px;top:492.10px">Signée électroniquement</div><div class="wl" style="left:994.200px;top:492.10px">Non</div><div class="dt" style="top:490.90px"></div><div class="dt" style="top:496.40px"></div>
<div class="wl" style="left:860px;top:573.70px">Commencée le</div><div class="wl" style="left:994.200px;top:573.70px">06/02/2020</div><div class="dt" style="top:572.50px"></div><div class="dt" style="top:578.00px"></div><div class="wl" style="left:860px;top:587.40px">Responsable</div><div class="wl" style="left:994.200px;top:587.40px">BOULLE Bill</div><div class="dt" style="top:586.20px"></div><div class="dt" style="top:591.70px"></div><div class="wl" style="left:860px;top:601.10px">Réalisée le</div><div class="dt" style="top:599.90px"></div><div class="dt" style="top:605.40px"></div>
<div class="wl" style="left:860px;top:695.20px">Responsable</div><div class="dt" style="top:694.00px"></div><div class="dt" style="top:699.50px"></div><div class="wl" style="left:860px;top:708.90px">Réalisée le</div><div class="dt" style="top:707.70px"></div><div class="dt" style="top:713.20px"></div>
<div class="wl" style="left:860px;top:811.00px">Responsable</div><div class="dt" style="top:809.80px"></div><div class="dt" style="top:815.30px"></div><div class="wl" style="left:860px;top:824.70px">Réalisée le</div><div class="dt" style="top:823.50px"></div><div class="dt" style="top:829.00px"></div>
<svg class="a" style="left:0;top:0" width="1536" height="826"><defs><clipPath id="cp1"><circle cx="816.100" cy="476.900" r="15.900"/></clipPath><clipPath id="cp2"><circle cx="816.100" cy="592.800" r="15.900"/></clipPath><filter id="sh2" x="-50%" y="-50%" width="200%" height="200%"><feGaussianBlur stdDeviation="2.800"/></filter><filter id="ph" x="-20%" y="-20%" width="140%" height="140%"><feGaussianBlur stdDeviation=".7"/></filter></defs><circle cx="816.600" cy="481" r="15.400" fill="#000" opacity=".36" filter="url(#sh2)"/><circle cx="816.600" cy="596.900" r="15.400" fill="#000" opacity=".36" filter="url(#sh2)"/><g clip-path="url(#cp1)"><g filter="url(#ph)"><rect x="798" y="459" width="36" height="36" fill="#8a9c36"/><ellipse cx="804" cy="474" rx="5" ry="8" fill="#a9a040"/><ellipse cx="803.500" cy="484" rx="5" ry="5" fill="#96922e"/><ellipse cx="829" cy="474" rx="5" ry="10" fill="#7fa62e"/><ellipse cx="830" cy="479.500" rx="1.600" ry="1.600" fill="#e8d23a"/><ellipse cx="817.200" cy="468" rx="10.200" ry="7" fill="#4a3c33"/><ellipse cx="824.600" cy="474" rx="3.200" ry="4.600" fill="#4f4036"/><ellipse cx="809.800" cy="471.500" rx="2.600" ry="4" fill="#55453a"/><ellipse cx="816.200" cy="478.600" rx="6.300" ry="8.200" fill="#d8a48a"/><ellipse cx="816" cy="473.600" rx="4.800" ry="2.600" fill="#dfb49c"/><ellipse cx="816.200" cy="484.600" rx="4.400" ry="3.200" fill="#c29a8a"/><ellipse cx="813" cy="476.700" rx="1.300" ry=".7" fill="#5a4238"/><ellipse cx="819.500" cy="476.700" rx="1.300" ry=".7" fill="#5a4238"/><path d="M813.400 482.600c1.800 1.200 4 1.200 5.800 0" fill="none" stroke="#8a5648" stroke-width=".9"/><path d="M802 497l4-8.600 6.200-2.400 3.800 3.400 4.600-3.600 7 1.400 4.400 9.800z" fill="#1f3049"/><path d="M812.200 486l3.800 4.600 4-4.600-1.400 7h-5z" fill="#c9a08c"/></g></g><g clip-path="url(#cp2)"><rect x="798" y="575" width="36" height="36" fill="#dcedf6"/><g filter="url(#ph)" opacity=".001"><rect x="0" y="0" width="1" height="1"/></g><path d="M807.200 582.200l3.400 1 2.600-1.800 1.600 1.400 2.600-.4 1.800 2.800-1 4.400-3.600 5.200-4.800-.600-2.200-5.600z" fill="#f0801e"/><ellipse cx="823.600" cy="586.800" rx="1.900" ry="3.100" fill="#e47a1c"/><path d="M822.400 585c.800 1.600.800 3.600 0 5" fill="none" stroke="#8a4a1a" stroke-width=".5"/><ellipse cx="817.800" cy="592.400" rx="4.700" ry="4.500" fill="#f9ceb2"/><path d="M812.400 590.800l3-5.800 3.800 1.200-2.400 2.200-1.200 3.600z" fill="#f0801e"/><ellipse cx="817.500" cy="590.700" rx="1.500" ry="1.750" fill="#fff" stroke="#3a2a20" stroke-width=".3"/><circle cx="818.100" cy="591.200" r=".7" fill="#1a1a1a"/><path d="M814.600 593.600c.600 1 1.600 1.400 2.600 1.200M819.600 594c.500.300 1 .300 1.400 0" fill="none" stroke="#7a4a3a" stroke-width=".5"/><path d="M814.400 597.600l6.200-.600 1.200 7.600h-8.400z" fill="#f3d420"/><path d="M815.400 597.600l1.400 7M820 597l1.400 7.400" stroke="#2a9ad8" stroke-width="1.100"/><path d="M811.800 604.200h9.800l.4 4.600h-10.600z" fill="#2a9ad8"/><ellipse cx="811.800" cy="602.400" rx="2.500" ry="1.900" fill="#f7c4a6" stroke="#8a5a4a" stroke-width=".3"/><path d="M821.400 600.800l3.200-2.800 1-3" fill="none" stroke="#f7c4a6" stroke-width="2.100" stroke-linecap="round"/><path d="M825.800 595.600l.4-3.200" stroke="#f7c4a6" stroke-width="1.300" stroke-linecap="round"/><path d="M824.200 594.600c.600-.800 1.800-.800 2.600 0" fill="none" stroke="#8a5a4a" stroke-width=".4"/></g></svg>
<div class="a" style="left:86px;top:824px;width:1450px;height:2px;background:#efefef"></div>
</body></html>
